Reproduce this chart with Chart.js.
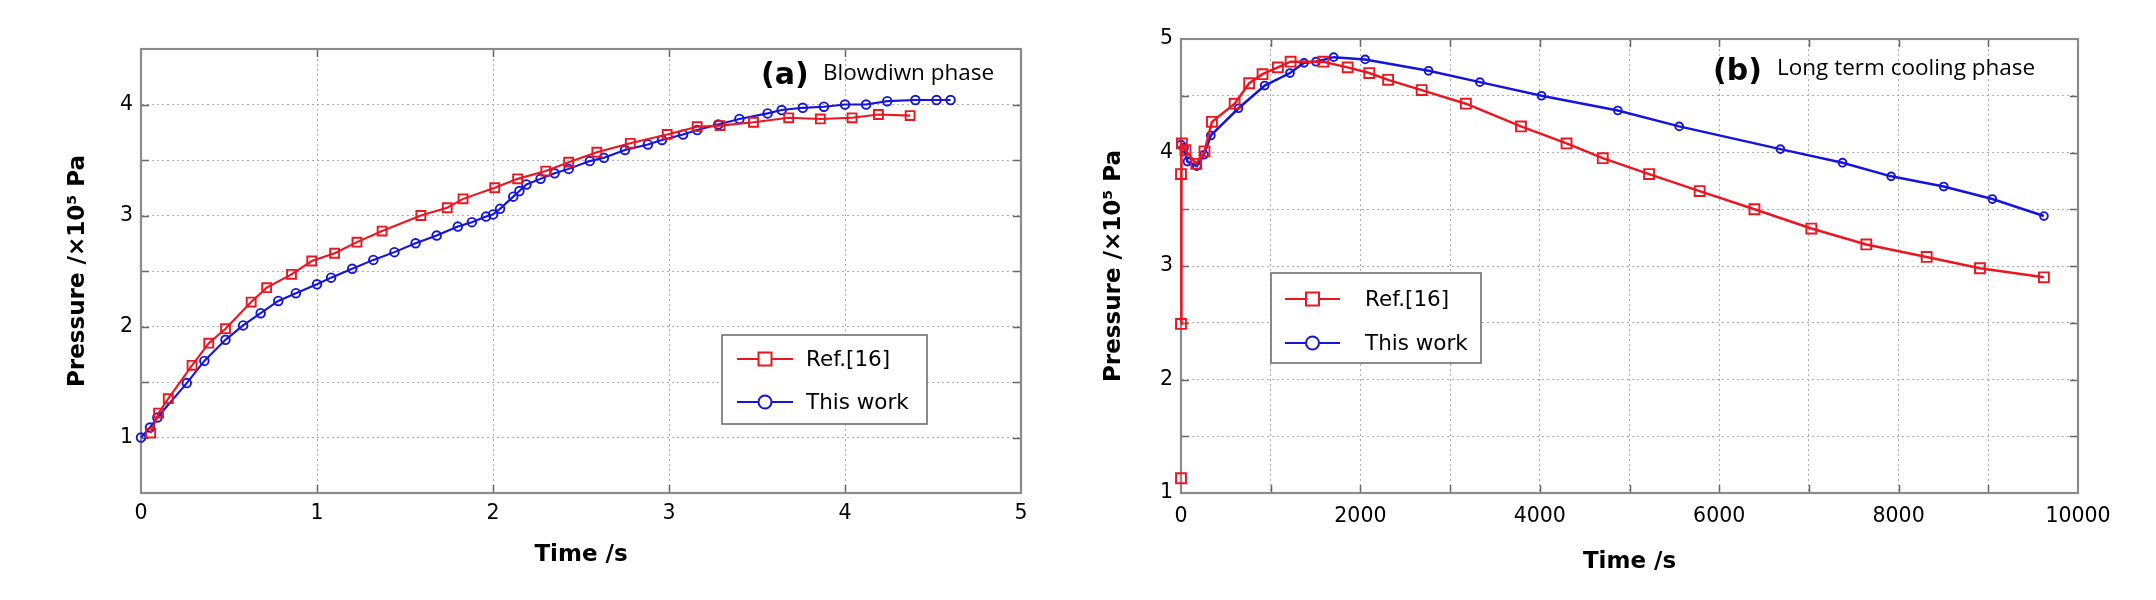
<!DOCTYPE html>
<html><head><meta charset="utf-8">
<script src="https://cdn.jsdelivr.net/npm/chart.js@4/dist/chart.umd.min.js"></script>
<style>
html,body{margin:0;padding:0;background:#fff;}
#wrap{position:relative;width:2156px;height:600px;background:#fff;}
canvas{position:absolute;top:0;}
</style></head><body>
<div id="wrap">
<canvas id="ca" width="1078" height="600" style="left:0px"></canvas>
<canvas id="cb" width="1078" height="600" style="left:1078px"></canvas>
</div>
<script>
// ---- data ----
const seriesNames = ['Ref.[16]', 'This work'];
const panelLabels = ['(a)', '(b)'];
const phaseNames = ['Blowdiwn phase', 'Long term cooling phase'];
const yTitle = 'Pressure /×10⁵ Pa';
const xTitle = 'Time /s';

// (a) blowdown phase
const blowTimeRef = [0.055,0.10,0.155,0.29,0.385,0.48,0.626,0.714,0.855,0.97,1.10,1.227,1.37,1.59,1.74,1.83,2.01,2.14,2.30,2.43,2.59,2.78,2.99,3.16,3.29,3.48,3.68,3.86,4.04,4.19,4.37];
const blowPresRef = [1.04,1.22,1.35,1.65,1.85,1.98,2.22,2.35,2.47,2.59,2.66,2.76,2.86,3.00,3.07,3.15,3.25,3.33,3.40,3.48,3.57,3.65,3.73,3.80,3.81,3.84,3.88,3.87,3.88,3.91,3.90];
const blowTimeThis = [0,0.051,0.093,0.26,0.36,0.48,0.58,0.68,0.78,0.88,1.0,1.08,1.20,1.32,1.44,1.56,1.68,1.80,1.88,1.96,2.0,2.04,2.115,2.15,2.19,2.27,2.35,2.43,2.55,2.63,2.75,2.88,2.96,3.08,3.16,3.28,3.40,3.56,3.64,3.76,3.88,4.00,4.12,4.24,4.40,4.52,4.60];
const blowPresThis = [1.0,1.09,1.18,1.49,1.69,1.88,2.01,2.12,2.23,2.30,2.38,2.44,2.52,2.60,2.67,2.75,2.82,2.90,2.94,2.99,3.01,3.06,3.17,3.22,3.28,3.33,3.38,3.42,3.49,3.52,3.59,3.64,3.68,3.73,3.77,3.82,3.87,3.92,3.95,3.97,3.98,4.00,4.00,4.03,4.04,4.04,4.04];

// (b) long term cooling phase
const coolTimeRef = [0,0,0,10,50,170,262,345,598,760,909,1080,1222,1586,1858,2099,2309,2683,3176,3790,4298,4702,5218,5782,6393,7027,7640,8313,8907,9620];
const coolPresRef = [1.13,2.49,3.81,4.08,4.02,3.90,4.01,4.27,4.43,4.61,4.69,4.75,4.80,4.80,4.75,4.70,4.64,4.55,4.43,4.23,4.08,3.95,3.81,3.66,3.50,3.33,3.19,3.08,2.98,2.90];
const coolTimeThis = [0,34,72,176,256,333,641,933,1215,1372,1505,1702,2053,2760,3332,4019,4870,5554,6682,7375,7917,8503,9045,9620];
const coolPresThis = [4.07,4.04,3.92,3.88,3.98,4.15,4.39,4.59,4.70,4.79,4.80,4.84,4.82,4.72,4.62,4.50,4.37,4.23,4.03,3.91,3.79,3.70,3.59,3.44];

// axis ticks
const blowXTicks = {min:0, max:5, step:1, labelEvery:1};
const blowYTicks = {min:0.5, max:4.5, step:0.5, labelEvery:1};
const coolXTicks = {min:0, max:10000, step:1000, labelEvery:2000};
const coolYTicks = {min:1, max:5, step:0.5, labelEvery:1};

const pts = (xs, ys) => xs.map((x, i) => ({x, y: ys[i]}));

// ---- decoration plugin: frame, inward ticks, panel caption, legend ----
const decor = {
  id: 'decor',
  beforeDatasetsDraw(chart, args, o) {
    const {ctx, chartArea: a, scales} = chart;
    ctx.save();
    ctx.strokeStyle = '#666';
    ctx.lineWidth = 1.5;
    ctx.beginPath();
    const L = o.tickLen;
    scales.x.ticks.forEach(t => {
      const px = Math.round(scales.x.getPixelForValue(t.value)) + 0.5;
      if (px < a.left + 2 || px > a.right - 2) return;
      ctx.moveTo(px, a.bottom); ctx.lineTo(px, a.bottom - L);
      ctx.moveTo(px, a.top); ctx.lineTo(px, a.top + L);
    });
    scales.y.ticks.forEach(t => {
      const py = Math.round(scales.y.getPixelForValue(t.value)) + 0.5;
      if (py < a.top + 2 || py > a.bottom - 2) return;
      ctx.moveTo(a.left, py); ctx.lineTo(a.left + L, py);
      ctx.moveTo(a.right, py); ctx.lineTo(a.right - L, py);
    });
    ctx.stroke();
    ctx.strokeStyle = '#8a8a8a';
    ctx.lineWidth = 2.2;
    ctx.strokeRect(a.left, a.top, a.right - a.left, a.bottom - a.top);
    ctx.restore();
  },
  afterDatasetsDraw(chart, args, o) {
    const {ctx} = chart;
    ctx.save();
    ctx.fillStyle = '#000';
    ctx.textBaseline = 'alphabetic';
    ctx.textAlign = 'left';
    ctx.font = 'bold 30px "DejaVu Sans"';
    ctx.fillText(o.panel.label, o.panel.labelX, o.panel.labelY);
    ctx.font = '22.5px "Open Sans"';
    ctx.fillText(o.panel.text, o.panel.textX, o.panel.textY);

    const lg = o.legend;
    ctx.fillStyle = '#fff';
    ctx.fillRect(lg.x, lg.y, lg.w, lg.h);
    ctx.strokeStyle = '#6f6f6f';
    ctx.lineWidth = 1.6;
    ctx.strokeRect(lg.x, lg.y, lg.w, lg.h);
    chart.data.datasets.forEach((ds, i) => {
      const y = lg.y + lg.rows[i];
      const mx = (lg.x1 + lg.x2) / 2;
      ctx.strokeStyle = ds.borderColor;
      ctx.lineWidth = 2.2;
      ctx.beginPath(); ctx.moveTo(lg.x1, y); ctx.lineTo(lg.x2, y); ctx.stroke();
      ctx.lineWidth = 2;
      ctx.fillStyle = '#fff';
      const s = lg.marker;
      if (ds.pointStyle === 'rect') {
        ctx.fillRect(mx - s/2, y - s/2, s, s);
        ctx.strokeRect(mx - s/2, y - s/2, s, s);
      } else {
        ctx.beginPath(); ctx.arc(mx, y, s/2, 0, Math.PI*2); ctx.fill(); ctx.stroke();
      }
      ctx.fillStyle = '#000';
      ctx.font = '21.5px "DejaVu Sans"';
      ctx.textBaseline = 'middle';
      ctx.fillText(ds.label, lg.textX, y + 1);
    });
    ctx.restore();
  }
};

function tickOpts(t) {
  return {
    min: t.min, max: t.max,
    ticks: {
      stepSize: t.step, autoSkip: false, maxRotation: 0,
      color: '#000', font: {family: '"DejaVu Sans"', size: 20.5},
      callback: v => (Math.abs(v / t.labelEvery - Math.round(v / t.labelEvery)) < 1e-6 ? String(v) : '')
    }
  };
}

function makeChart(id, cfg) {
  const xt = tickOpts(cfg.xTicks), yt = tickOpts(cfg.yTicks);
  xt.ticks.padding = cfg.xTickPad;
  yt.ticks.padding = 8;
  const gridDash = {display: true, color: '#8a8a8a', width: 2, dash: [2, 3]};
  return new Chart(document.getElementById(id), {
    type: 'scatter',
    data: {
      datasets: [
        {label: seriesNames[0], data: cfg.ref, showLine: true, borderColor: '#ec1620', borderWidth: cfg.lw,
         pointStyle: 'rect', pointRadius: cfg.rectR, pointBorderWidth: 1.9, pointBorderColor: '#ec1620',
         pointBackgroundColor: 'rgba(0,0,0,0)', tension: 0, clip: false, segment: cfg.refSegment},
        {label: seriesNames[1], data: cfg.mine, showLine: true, borderColor: '#1414dc', borderWidth: cfg.lw,
         pointStyle: 'circle', pointRadius: cfg.circR, pointBorderWidth: 1.9, pointBorderColor: '#1414dc',
         pointBackgroundColor: 'rgba(0,0,0,0)', tension: 0, clip: false}
      ]
    },
    options: {
      responsive: false, animation: false, events: [],
      layout: {padding: {top: cfg.top, right: cfg.right, left: 0, bottom: 0}},
      scales: {
        x: Object.assign(xt, {
          type: 'linear', position: 'bottom',
          grid: {color: '#ababab', lineWidth: 1, drawTicks: false},
          border: gridDash,
          title: {display: true, text: xTitle, color: '#000',
                  font: {family: '"DejaVu Sans"', size: 23, weight: 'bold'},
                  padding: {top: 0, bottom: cfg.xTitlePad}},
          afterFit: s => { s.height = 107; }
        }),
        y: Object.assign(yt, {
          type: 'linear', position: 'left',
          grid: {color: '#ababab', lineWidth: 1, drawTicks: false},
          border: gridDash,
          title: {display: true, text: yTitle, color: '#000',
                  font: {family: '"DejaVu Sans"', size: 23, weight: 'bold'},
                  padding: {top: cfg.yTitlePad, bottom: 0}},
          afterFit: s => { s.width = cfg.left; }
        })
      },
      plugins: {
        legend: {display: false}, tooltip: {enabled: false},
        decor: {tickLen: 8, panel: cfg.panel, legend: cfg.legend}
      }
    },
    plugins: [decor]
  });
}

makeChart('ca', {
  ref: pts(blowTimeRef, blowPresRef), mine: pts(blowTimeThis, blowPresThis),
  xTicks: blowXTicks, yTicks: blowYTicks,
  left: 141, right: 57, top: 49, xTickPad: 8, xTitlePad: 31, yTitlePad: 64,
  lw: 2.1, rectR: 6.3, circR: 4.3,
  panel: {label: panelLabels[0], labelX: 761, labelY: 84, text: phaseNames[0], textX: 823, textY: 80},
  legend: {x: 722, y: 335, w: 205, h: 89, rows: [24, 67], x1: 737, x2: 793, textX: 806, marker: 13}
});

makeChart('cb', {
  ref: pts(coolTimeRef, coolPresRef), mine: pts(coolTimeThis, coolPresThis),
  xTicks: coolXTicks, yTicks: coolYTicks,
  left: 103, right: 78, top: 39, xTickPad: 11, xTitlePad: 24, yTitlePad: 22,
  lw: 2.5, rectR: 7, circR: 3.9,
  refSegment: {borderColor: c => (c.p0DataIndex === 0 ? 'rgba(0,0,0,0)' : undefined)},
  panel: {label: panelLabels[1], labelX: 635, labelY: 80, text: phaseNames[1], textX: 699, textY: 75},
  legend: {x: 193, y: 273, w: 210, h: 90, rows: [26, 70], x1: 207, x2: 262, textX: 287, marker: 13}
});
</script>
</body></html>
